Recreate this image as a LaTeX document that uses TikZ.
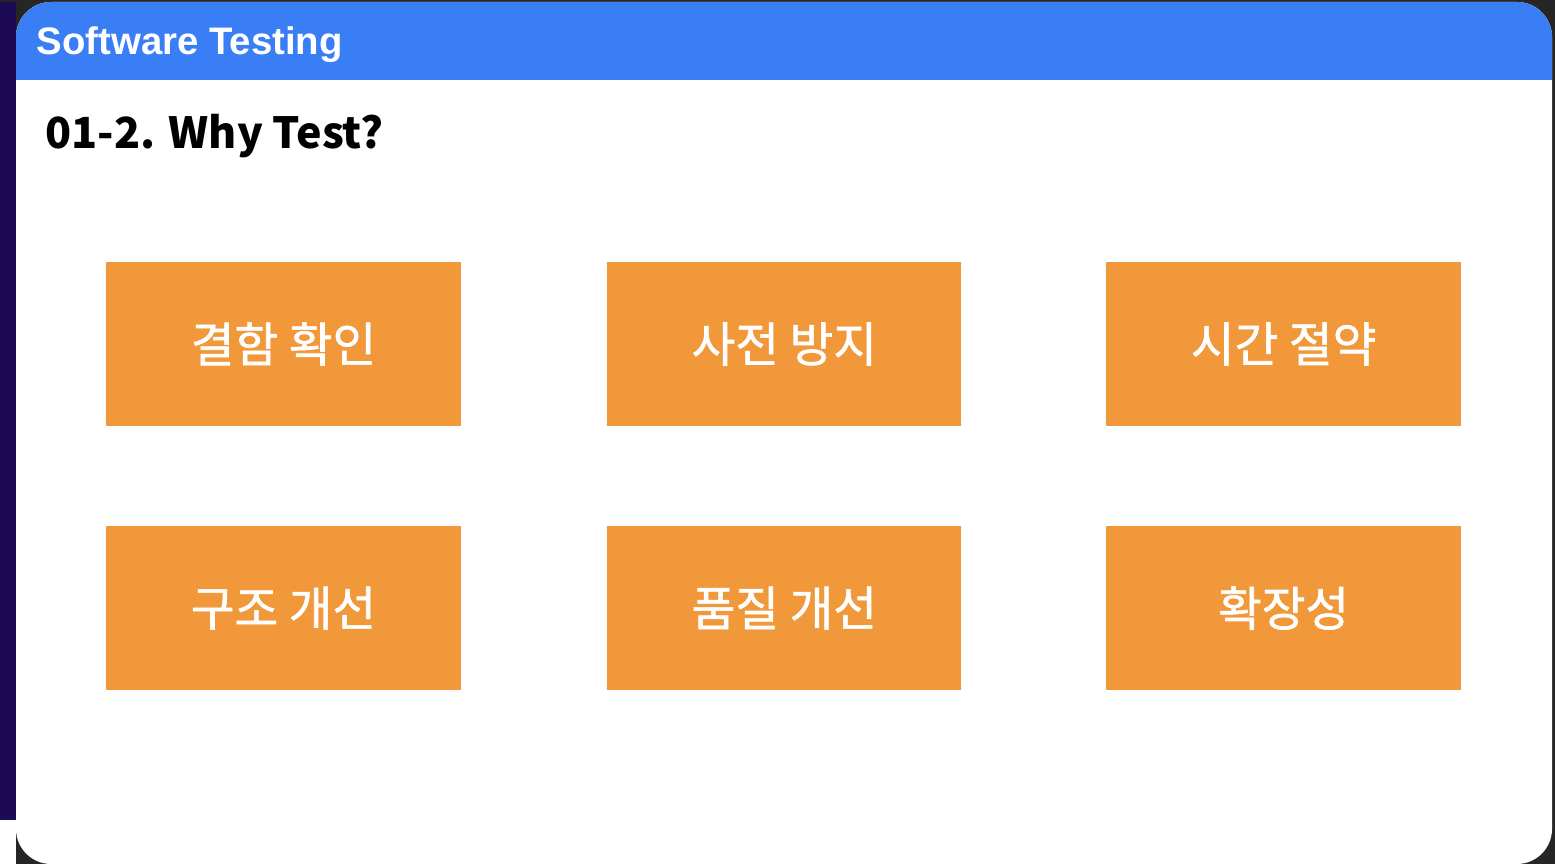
\documentclass[tikz,border=0pt]{standalone}
\usepackage{fontspec}
\setmainfont{Liberation Sans}
\newfontfamily\kofont[FakeBold=1.2]{Noto Sans CJK KR}
\newfontfamily\kotitle{Noto Sans CJK KR}
\definecolor{barblue}{HTML}{3A7EF6}
\definecolor{boxorange}{HTML}{F1993A}
\definecolor{deskpurple}{HTML}{1D0A55}

\begin{document}
\begin{tikzpicture}[x=0.01cm,y=-0.01cm,
kbox/.style={rectangle,fill=boxorange,minimum width=3.54cm,minimum height=1.64cm,inner sep=0pt,outer sep=0pt,text=white,font=\kofont\fontsize{13.5}{16}\selectfont},
bartxt/.style={anchor=west,inner sep=0pt,text=white,font=\bfseries\fontsize{10.9}{13}\selectfont},
ttl/.style={anchor=west,inner sep=0pt,font=\kotitle\bfseries\fontsize{12.2}{15}\selectfont}]
	\useasboundingbox (0,0) rectangle (1555,864);
	\clip (0,0) rectangle (1555,864);
	%screen behind the window
	\fill[black!85] (0,0) rectangle (1555,864);
	\fill[deskpurple] (0,2) rectangle (16,820);
	\fill[white] (0,820) rectangle (16,864);
	%window
	\fill[white,rounded corners=10] (16,2) rectangle (1552,864);
	\begin{scope}
		\clip[rounded corners=10] (16,2) rectangle (1552,864);
		\fill[barblue] (16,2) rectangle (1552,80);
	\end{scope}
	\node[bartxt] at (36,45) (bar) {Software Testing};
	\node[ttl] at (45,136) (title) {01-2. Why Test?};
	%reasons
	\node[kbox] at (283.5,344) (b1) {결함 확인};
	\node[kbox,right] at ([xshift=1.465cm]b1.east) (b2) {사전 방지};
	\node[kbox,right] at ([xshift=1.45cm]b2.east) (b3) {시간 절약};
	\node[kbox,below] at ([yshift=-1cm]b1.south) (b4) {구조 개선};
	\node[kbox,below] at ([yshift=-1cm]b2.south) (b5) {품질 개선};
	\node[kbox,below] at ([yshift=-1cm]b3.south) (b6) {확장성};
\end{tikzpicture}
\end{document}
